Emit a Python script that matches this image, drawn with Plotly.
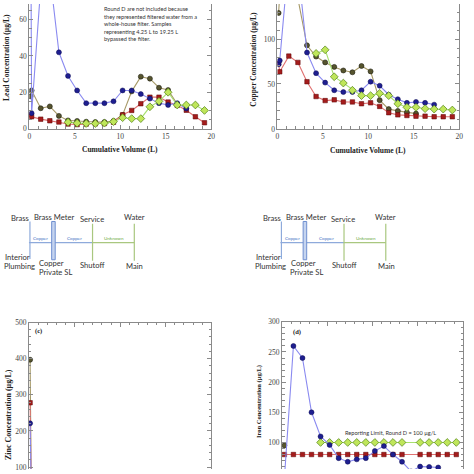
import plotly.graph_objects as go

# ---------------- DATA ----------------
x_vol = [0.125, 0.25, 1.25, 2.25, 3.25, 4.25, 5.25, 6.25, 7.25, 8.25, 9.25,
         10.25, 11.25, 12.25, 13.25, 14.25, 15.25, 16.25, 17.25, 18.25, 19.25]

lead_a = [150, 8.5, 78, 85, 42, 29, 21, 14, 14, 14, 15, 21, 21, 19, 16.5, 14, 13, 14, 11, None, None]
lead_b = [7.5, 6.5, 5.2, 4.3, 3.6, 2.5, 2.2, 2.5, 2.6, 2.8, 3.5, 7.6, 10, 13.7, 17.3, 17.3, 14.6, 12.8, 10.1, 6.5, 3.2]
lead_c = [17.8, 21, 11.2, 12.2, 7, 4.5, 4.2, 3.8, 3.6, 3.6, 4.2, 7.5, 20.5, 28.6, 27.5, 22.5, 21.2, 13.5, None, None, None]
lead_d = [None, None, None, None, None, 3.5, 3.0, 2.8, 2.8, 3.0, 3.8, 6.0, 5.5, 5.5, 12, 15, 20, 13, 13, 13, 10]

copper_a = [72, 76, 190, 180, 85, 62, 51.5, 43, 41, 41, 43, 52.5, 48, 38, 33, 29, 30, 29, 27, None, None]
copper_b = [73, 63.5, 81, 74, 52.5, 36, 31.5, 32.3, 30, 30, 28, 29, 25, 18, 15.6, 14.9, 14.2, 14.2, 13.5, 13.5, 13.5]
copper_c = [129, 150, 160, 145, 93, 80.5, 74, 69, 65, 63, 70, 64, 32, 22, 20, 18.5, 17, None, None, None, None]
copper_d = [None, None, None, None, None, 84, 88, 58, 51, 43, 37, 37, 39.5, 37, 28, 24, 24, 22.5, 22, 22, 21]

zinc_a = [221, 40] + [None] * 19
zinc_b = [278, 30] + [None] * 19
zinc_c = [397, 50] + [None] * 19

iron_a = [None, 40, 260, 240, 150, 110, 96, 74, 68, 72, 74, 86, 94, 80, 68, 52, 60, 59.5, 58.5, None, None]
iron_b = [None, 80, 80, 80, 80, 80, 80, 80, 80, 80, 80, 80, 80, 80, 80, None, 80, 80, 80, 80, 80]
iron_c = [None, 95] + [None] * 19
iron_d = [None, None, None, None, None, 100, 100, 100, 100, 100, 100, 100, 100, 100, 100, None, 100, 100, 100, 100, 100]

note_lines = ["Round D are not included because",
              "they represented filtered water from a",
              "whole-house filter. Samples",
              "representing 4.25 L to 19.25 L",
              "bypassed the filter."]

# ---------------- HELPERS ----------------
W = H = 474
def PX(p):
    return p / W
def PY(p):
    return 1 - p / H

STY = {
    "a": dict(line=dict(color="#8a8af0", width=1.1),
              marker=dict(symbol="circle", size=5, color="#1e1e90", line=dict(color="#0a0a50", width=0.5))),
    "b": dict(line=dict(color="#e07272", width=1.1),
              marker=dict(symbol="square", size=4.5, color="#a51c1c", line=dict(color="#5a0000", width=0.5))),
    "c": dict(line=dict(color="#a79a68", width=1.1),
              marker=dict(symbol="circle", size=5, color="#56542e", line=dict(color="#1e1e10", width=0.6))),
    "d": dict(line=dict(color="#a8e070", width=1.1),
              marker=dict(symbol="diamond", size=6, color="#bfe65a", line=dict(color="#4f7f16", width=0.7))),
}

fig = go.Figure()

def add(series, key, xa, ya, connect=False):
    s = STY[key]
    fig.add_trace(go.Scatter(x=x_vol, y=series, mode="lines+markers", xaxis=xa, yaxis=ya,
                             line=s["line"], marker=s["marker"], connectgaps=connect,
                             showlegend=False, hoverinfo="skip"))

# lead
add(lead_c, "c", "x", "y"); add(lead_b, "b", "x", "y"); add(lead_a, "a", "x", "y"); add(lead_d, "d", "x", "y")
# copper
add(copper_c, "c", "x2", "y2"); add(copper_b, "b", "x2", "y2"); add(copper_a, "a", "x2", "y2"); add(copper_d, "d", "x2", "y2")
# zinc
add(zinc_c, "c", "x3", "y3"); add(zinc_b, "b", "x3", "y3"); add(zinc_a, "a", "x3", "y3")
# iron
add(iron_d, "d", "x4", "y4", True); add(iron_b, "b", "x4", "y4", True); add(iron_c, "c", "x4", "y4"); add(iron_a, "a", "x4", "y4")

AXC = "#8a8a8a"
TF = dict(family="Liberation Serif", size=7.5, color="#444")

def xax(dom, side, labels):
    return dict(domain=dom, range=[0, 20], side=side, showticklabels=labels, tick0=0, dtick=5,
                showgrid=False, zeroline=False, showline=True, linecolor=AXC, linewidth=1,
                ticks="inside", ticklen=4, tickcolor=AXC, mirror=False, tickfont=TF,
                minor=dict(ticks="inside", ticklen=2.5, tickcolor=AXC, dtick=1))

def yax(dom, rng, dt, mdt, anchor):
    return dict(domain=dom, range=rng, tick0=0, dtick=dt, anchor=anchor,
                showgrid=False, zeroline=False, showline=True, linecolor=AXC, linewidth=1,
                ticks="inside", ticklen=4, tickcolor=AXC, mirror="allticks", tickfont=TF,
                minor=dict(ticks="inside", ticklen=2.5, tickcolor=AXC, dtick=mdt))

fig.update_layout(
    width=W, height=H, autosize=False, margin=dict(l=0, r=0, t=0, b=0),
    paper_bgcolor="white", plot_bgcolor="white", showlegend=False,
    xaxis=dict(xax([PX(27.7), PX(212)], "bottom", True), anchor="y"),
    yaxis=yax([PY(127), 1], [0, 68.6], 20, 5, "x"),
    xaxis2=dict(xax([PX(279), PX(463)], "bottom", True), anchor="y2"),
    yaxis2=yax([PY(127.3), 1], [0, 139], 50, 10, "x2"),
    xaxis3=dict(xax([PX(27.3), PX(212)], "top", False), anchor="y3"),
    yaxis3=yax([0, PY(324.7)], [94.6, 500], 100, 20, "x3"),
    xaxis4=dict(xax([PX(283.7), PX(467)], "top", False), anchor="y4"),
    yaxis4=yax([0, PY(324)], [56, 300], 50, 10, "x4"),
)

ann = []
TITLE = dict(family="Liberation Serif", size=7.5, color="#222")
def txt(t, x, y, font, angle=0, xanchor="center"):
    ann.append(dict(text=t, x=PX(x), y=PY(y), xref="paper", yref="paper", showarrow=False,
                    font=font, textangle=angle, xanchor=xanchor, yanchor="middle"))

txt("<b>Lead Concentration (µg/L)</b>", 5, 54, TITLE, -90)
txt("<b>Copper Concentration (µg/L)</b>", 255, 56, TITLE, -90)
txt("<b>Zinc Concentration (µg/L)</b>", 6, 418, dict(TITLE, size=8), -90)
txt("<b>Iron Concentration (µg/L)</b>", 261, 405, dict(TITLE, size=6.5), -90)
txt("<b>Cumulative Volume (L)</b>", 120, 148, TITLE)
txt("<b>Cumulative Volume (L)</b>", 371, 149, TITLE)
txt("<b>(c)</b>", 37.3, 333.5, dict(TITLE, size=6.5))
txt("<b>(d)</b>", 298.7, 334, dict(TITLE, size=6.5))

NOTE = dict(family="Lato", size=5.6, color="#333")
for i, line in enumerate(note_lines):
    txt(line, 101.5, 4.7 + i * 7.65, NOTE, xanchor="left")
txt("Reporting Limit, Round D = 100 µg/L", 393.5, 436.7, NOTE)

# ---------------- PIPE DIAGRAMS ----------------
BLUE = "#8eaadb"
GREEN = "#a9c77f"
shapes = []
def seg(x0, y0, x1, y1, color, w=1.2):
    shapes.append(dict(type="line", xref="paper", yref="paper", x0=PX(x0), y0=PY(y0), x1=PX(x1), y1=PY(y1),
                       line=dict(color=color, width=w)))

LBL = dict(family="Lato", size=7.6, color="#333")
for dx in (0, 254.7):
    seg(27.3 + dx, 243.3, 91.7 + dx, 243.3, BLUE)
    seg(91.7 + dx, 243.3, 134 + dx, 243.3, GREEN)
    seg(28.3 + dx, 221.7, 28.3 + dx, 260, BLUE)
    shapes.append(dict(type="rect", xref="paper", yref="paper", x0=PX(50.3 + dx), x1=PX(53.9 + dx),
                       y0=PY(260.7), y1=PY(221.7), fillcolor="#c5d4ef",
                       line=dict(color="#6f8fd0", width=1)))
    seg(91.7 + dx, 224, 91.7 + dx, 261.7, GREEN)
    seg(134 + dx, 224, 134 + dx, 261.7, GREEN)
    txt("Brass", 18.3 + dx, 218.3, LBL)
    txt("Brass Meter", 53 + dx, 217.3, LBL)
    txt("Service", 90.8 + dx, 219, LBL)
    txt("Water", 133.7 + dx, 217.3, LBL)
    txt("Copper", 39.2 + dx, 239, dict(family="Lato", size=4.6, color="#4472c4"))
    txt("Copper", 73.5 + dx, 239, dict(family="Lato", size=4.6, color="#4472c4"))
    txt("Unknown", 113.7 + dx, 239, dict(family="Lato", size=4.6, color="#70ad47"))
    txt("Interior", 15.3 + dx, 257.7, LBL)
    txt("Plumbing", 17.5 + dx, 266.7, LBL)
    txt("Copper", 50.5 + dx, 264.3, LBL)
    txt("Private SL", 53.8 + dx, 273.3, LBL)
    txt("Shutoff", 91.7 + dx, 265.7, LBL)
    txt("Main", 134.7 + dx, 266.7, LBL)

fig.update_layout(annotations=ann, shapes=shapes)
fig.write_html("out.html")
